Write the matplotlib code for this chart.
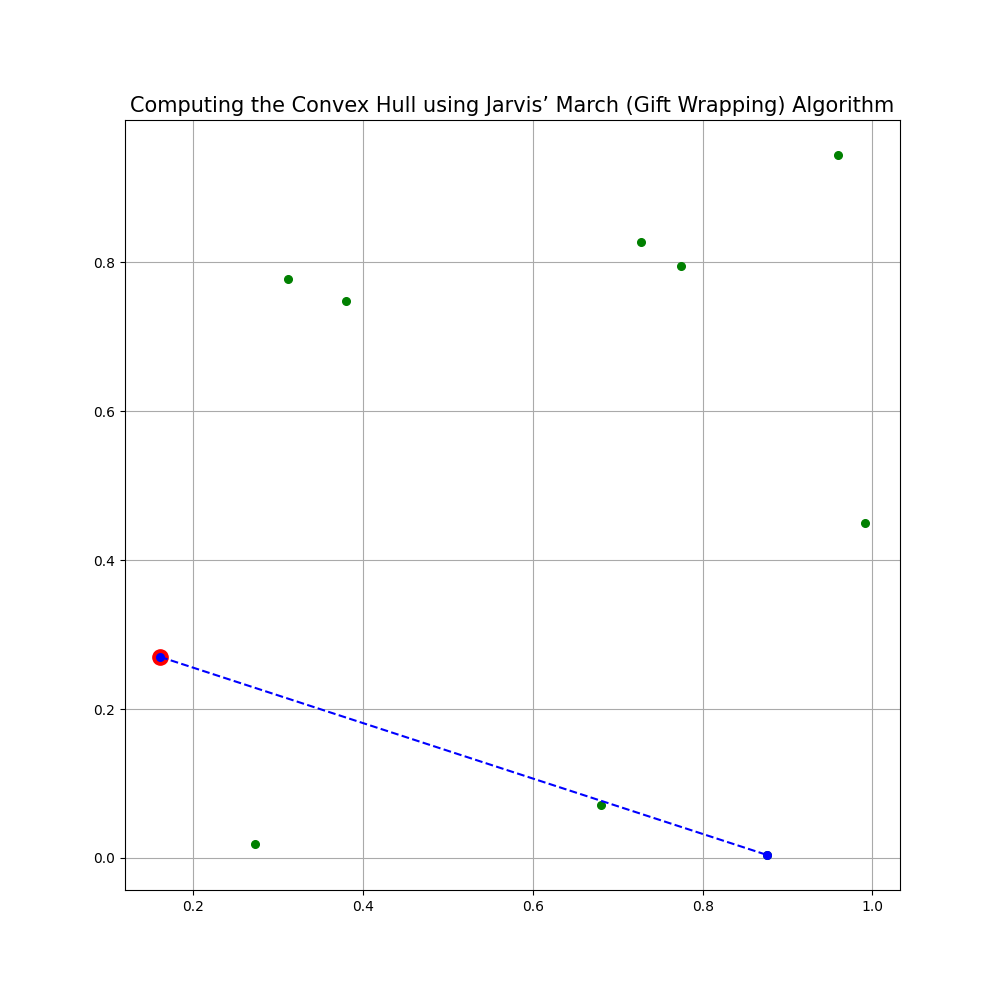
import matplotlib
matplotlib.use('Agg')
import matplotlib.pyplot as plt

# Point set
xs = [0.161, 0.273, 0.311, 0.380, 0.727, 0.775, 0.960, 0.991, 0.680, 0.876]
ys = [0.270, 0.019, 0.778, 0.748, 0.827, 0.795, 0.944, 0.450, 0.071, 0.004]

# Current hull point and candidate edge
start = (0.161, 0.270)
candidate = (0.876, 0.004)

fig, ax = plt.subplots(figsize=(10, 10))

ax.plot(xs, ys, 'go', markersize=5.5, linestyle='none')
ax.plot(start[0], start[1], 'ro', markersize=11)
ax.plot([start[0], candidate[0]], [start[1], candidate[1]], 'b--', marker='o', markersize=5.5)

ax.grid(True, color='#aaaaaa', linewidth=0.8)
ax.set_title('Computing the Convex Hull using Jarvis\u2019 March (Gift Wrapping) Algorithm', fontsize=15)

fig.savefig('out.png', dpi=100)
